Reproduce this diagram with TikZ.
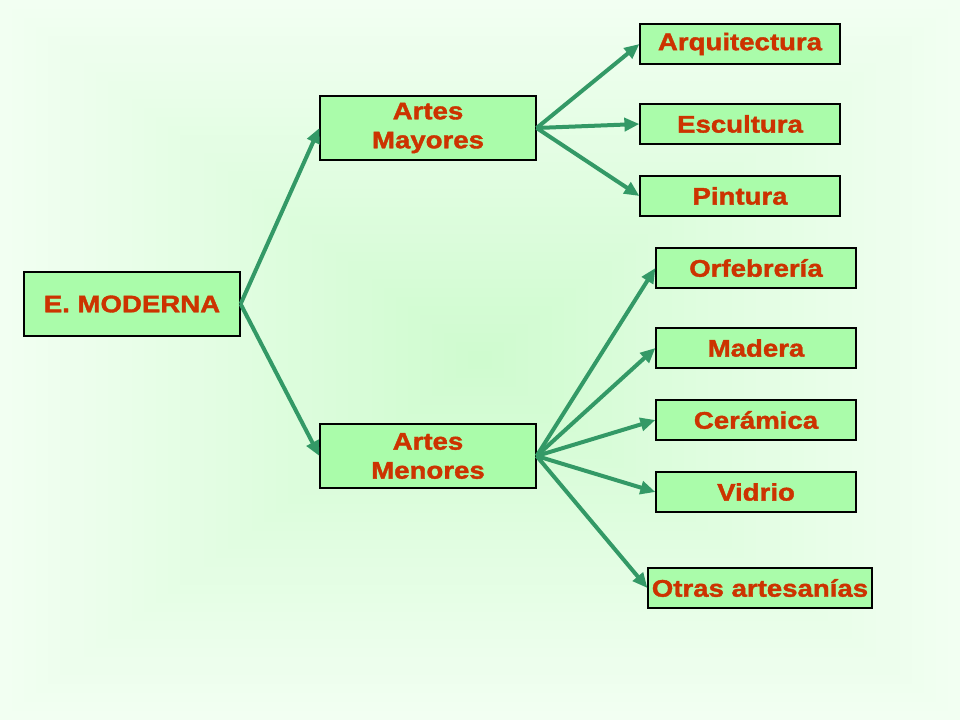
\documentclass[tikz,border=0pt]{standalone}
\usepackage{fontspec}
\setmainfont{Liberation Sans}
\newfontfamily\boxfont[FakeStretch=1.15,FakeBold=1.6]{Liberation Sans}
\usetikzlibrary{arrows.meta}
\definecolor{txt}{HTML}{CC3300}
\definecolor{boxfill}{HTML}{AAFCAA}
\definecolor{arr}{HTML}{339966}
\definecolor{bgout}{HTML}{F2FFF2}
\definecolor{bgin}{HTML}{CEFBCE}
\begin{document}
\begin{tikzpicture}[x=1pt,y=-1pt,
  box/.style={draw=black,line width=1.2pt,fill=boxfill,inner sep=0pt,
    minimum height=40pt,text=txt,align=center,
    font=\boxfont\bfseries\fontsize{24}{29}\selectfont},
  conn/.style={draw=arr,line width=4pt,-{Triangle[length=15pt,width=13pt]}}]
\useasboundingbox (0,0) rectangle (960,720);
\foreach \i in {0,...,39}{
  \pgfmathsetmacro\p{\i*2.5}
  \fill[bgin!\p!bgout] (\i*12,\i*9) rectangle (960-\i*12,720-\i*9);
}
\node[box,minimum width=216pt,minimum height=64pt] (mod) at (132,304) {E. MODERNA};
\node[box,minimum width=216pt,minimum height=64pt] (may) at (428,128) {Artes\\Mayores};
\node[box,minimum width=216pt,minimum height=64pt] (men) at (428,456) {Artes\\Menores};
\node[box,minimum width=200pt] (arq) at (740,44) {Arquitectura};
\node[box,minimum width=200pt] (esc) at (740,124) {Escultura};
\node[box,minimum width=200pt] (pin) at (740,196) {Pintura};
\node[box,minimum width=200pt] (orf) at (756,268) {Orfebrería};
\node[box,minimum width=200pt] (mad) at (756,348) {Madera};
\node[box,minimum width=200pt] (cer) at (756,420) {Cerámica};
\node[box,minimum width=200pt] (vid) at (756,492) {Vidrio};
\node[box,minimum width=224pt] (otr) at (760,588) {Otras artesanías};
\draw[conn] (mod.east) -- (may.west);
\draw[conn] (mod.east) -- (men.west);
\draw[conn] (may.east) -- (arq.west);
\draw[conn] (may.east) -- (esc.west);
\draw[conn] (may.east) -- (pin.west);
\draw[conn] (men.east) -- (orf.west);
\draw[conn] (men.east) -- (mad.west);
\draw[conn] (men.east) -- (cer.west);
\draw[conn] (men.east) -- (vid.west);
\draw[conn] (men.east) -- (otr.west);
\end{tikzpicture}
\end{document}
